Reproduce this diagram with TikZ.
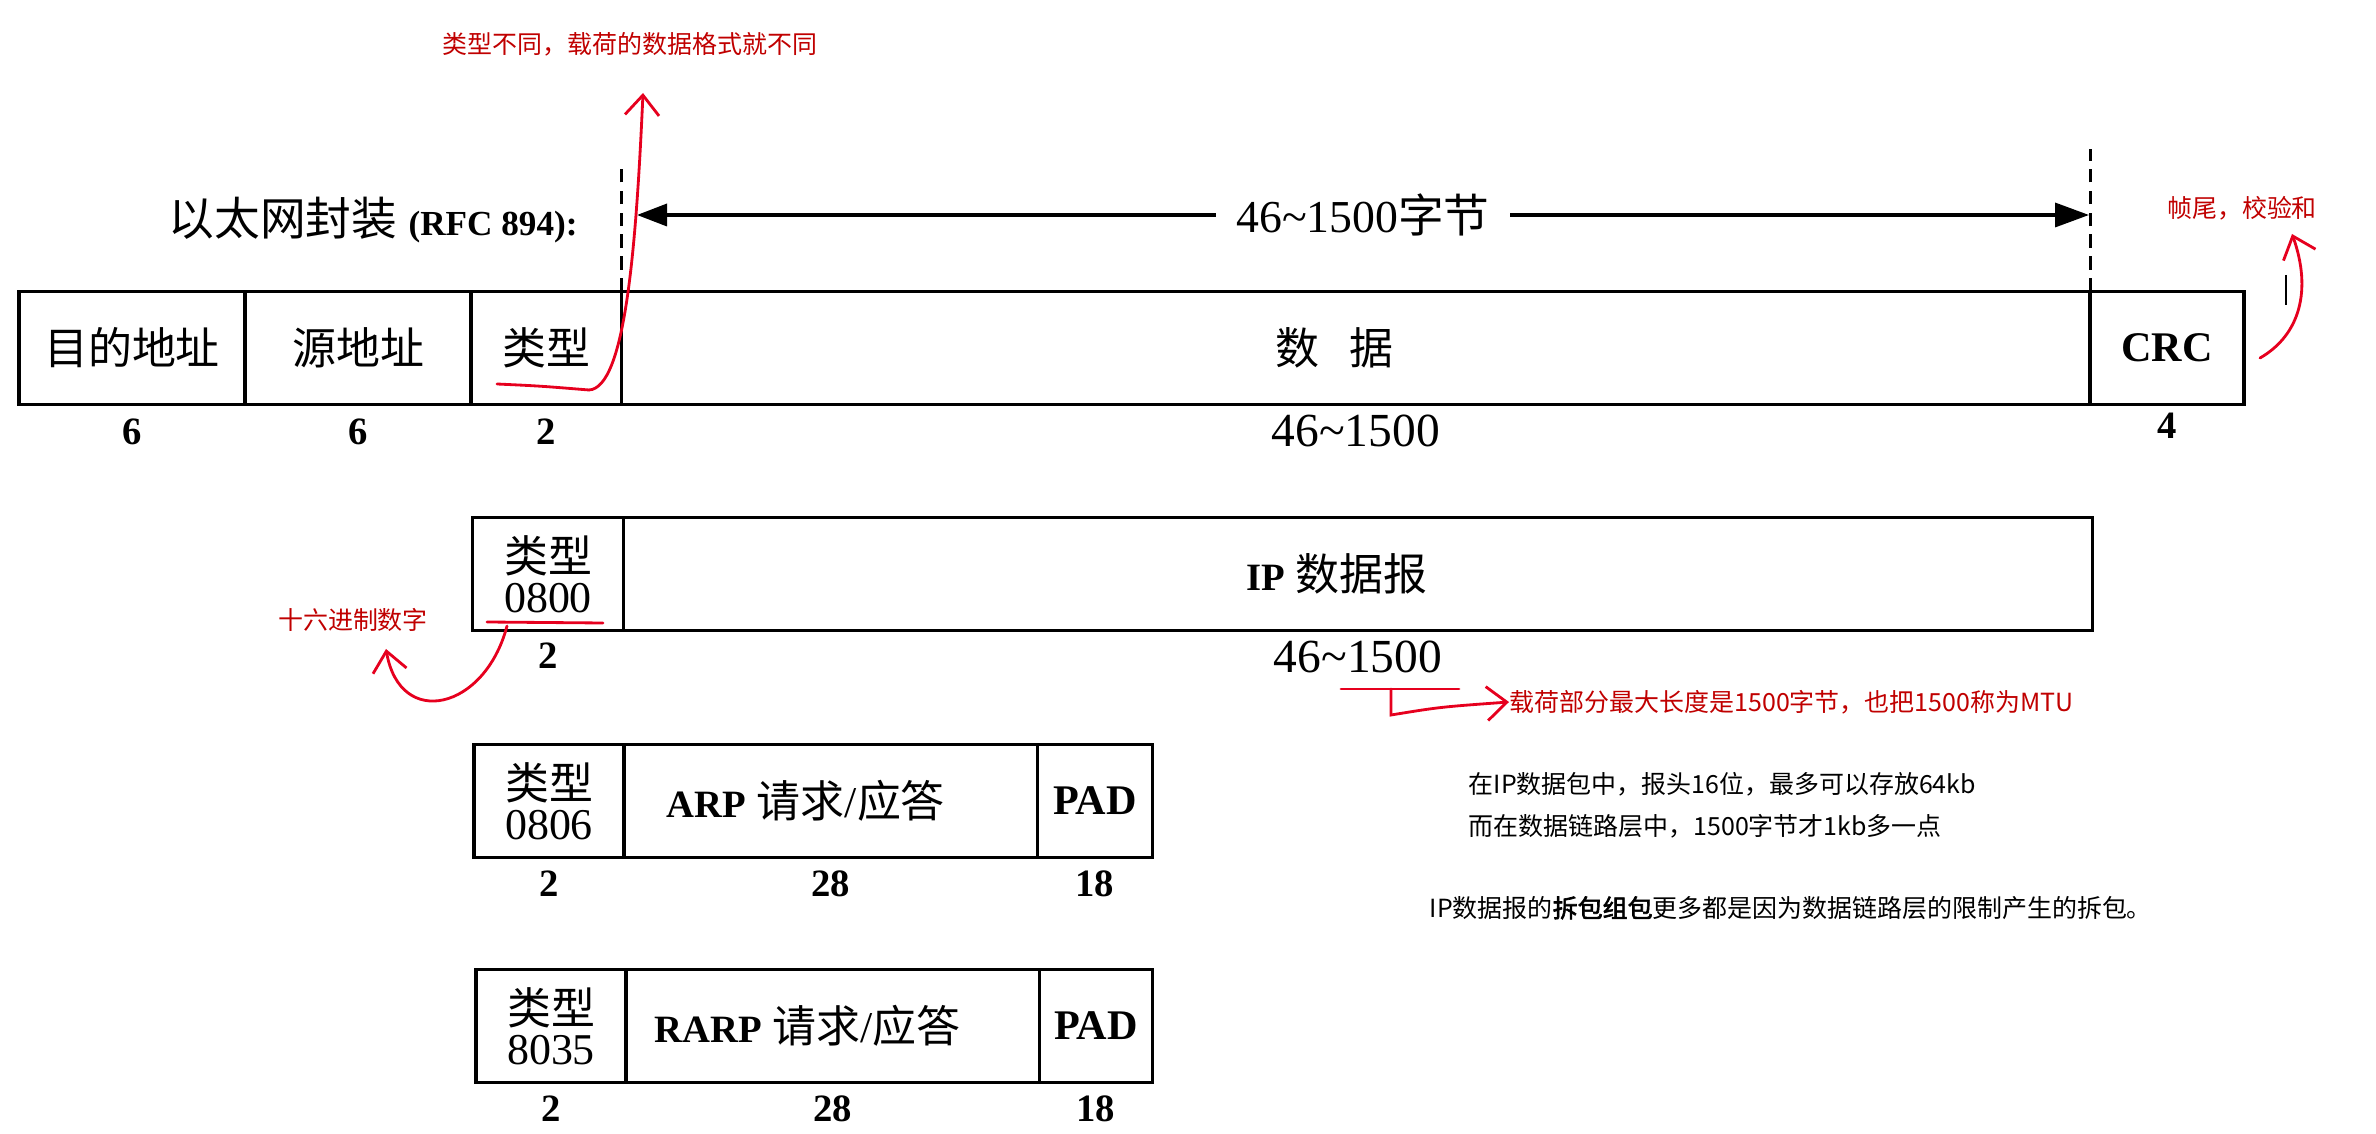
\documentclass[tikz,border=0pt]{standalone}
\usepackage{fontspec}
\setmainfont{Liberation Serif}
\newfontfamily\cjk{Noto Sans CJK SC}
\newfontfamily\cjkbold[FakeBold=2.5]{Noto Sans CJK SC}
\usetikzlibrary{positioning,arrows.meta}

\definecolor{notered}{RGB}{192,0,0}
\definecolor{penred}{RGB}{230,0,30}
\newcommand\zh[1]{{\cjk #1}}
\newcommand\bfsmall[1]{{\bfseries\fontsize{11pt}{11pt}\selectfont #1}}

\tikzset{
  field/.style={draw, line width=1pt, outer sep=0pt, inner sep=0pt,
    minimum height=1.13cm, align=center,
    font=\fontsize{12.5pt}{11.5pt}\selectfont},
  bytes/.style={font=\bfseries\fontsize{11pt}{11pt}\selectfont, inner sep=0pt},
  bytesrange/.style={font=\fontsize{13.5pt}{13.5pt}\selectfont, inner sep=0pt},
  note/.style={text=notered, font=\cjk\fontsize{7.1pt}{8pt}\selectfont, inner sep=0pt},
  remark/.style={font=\cjk\fontsize{7.1pt}{8pt}\selectfont, inner sep=0pt, anchor=west},
  pen/.style={draw=penred, line width=0.8pt, line cap=round},
  penarrow/.style={pen, -{Straight Barb[length=0.2cm, width=0.34cm]}},
  guide/.style={line width=0.9pt, dash pattern=on 3.8pt off 2.4pt},
  spanarrow/.style={line width=1pt,
    {Triangle[length=0.3cm, width=0.22cm]}-{Triangle[length=0.34cm, width=0.24cm]}},
}

\begin{document}
\begin{tikzpicture}[x=0.01cm, y=-0.01cm]
    \useasboundingbox (0,0) rectangle (2376,1134);

    % ethernet frame
    \node[field, minimum width=2.26cm] (dst) at (132,348) {\zh{目的地址}};
    \node[field, minimum width=2.26cm, right=0pt of dst] (src) {\zh{源地址}};
    \node[field, minimum width=1.50cm, right=0pt of src] (typ) {\zh{类型}};
    \node[field, minimum width=14.68cm, right=0pt of typ] (data) {\zh{数\hspace{0.3cm}据}\hspace{0.42cm}};
    \node[field, minimum width=1.54cm, right=0pt of data] (crc) {\bfseries\fontsize{12pt}{12pt}\selectfont CRC};

    \node[bytes, below=0.14cm of dst] (dstlen) {6};
    \node[bytes, below=0.14cm of src] (srclen) {6};
    \node[bytes, below=0.14cm of typ] (typlen) {2};
    \node[bytesrange, below=0.1cm of data] (datalen) {46\textasciitilde1500};
    \node[bytes, below=0.08cm of crc] (crclen) {4};

    \node[anchor=east, font=\fontsize{13pt}{13pt}\selectfont] (eth) at (590,220)
        {\zh{以太网封装} {\bfseries\fontsize{10pt}{10pt}\selectfont (RFC 894):}};
    \draw[guide] (data.north west) -- ++(0,-129);
    \draw[guide] (data.north east) -- ++(0,-142);
    \coordinate (spanl) at (637,215);
    \coordinate (spanr) at (2089,215);
    \draw[spanarrow] (spanl) -- node[bytesrange, fill=white, inner xsep=0.2cm, font=\fontsize{13pt}{13pt}\selectfont]
        (spantext) {46\textasciitilde1500\zh{字节}} (spanr);

    % IP datagram
    \node[field, minimum width=1.51cm] (iptyp) at (548,574) {\zh{类型}\\0800};
    \node[field, minimum width=14.68cm, right=0pt of iptyp] (ipdata) {\bfsmall{IP} \zh{数据报}\hspace{0.42cm}};
    \node[bytes, below=0.12cm of iptyp] (iptyplen) {2};
    \node[bytesrange, below=0.1cm of ipdata] (iplen) {46\textasciitilde1500};

    % ARP
    \node[field, minimum width=1.50cm] (arptyp) at (549,801) {\zh{类型}\\0806};
    \node[field, minimum width=4.13cm, right=0pt of arptyp] (arpdata) {\bfsmall{ARP} \zh{请求}/\zh{应答}\hspace{0.5cm}};
    \node[field, minimum width=1.15cm, right=0pt of arpdata] (arppad) {\bfseries\fontsize{12pt}{12pt}\selectfont PAD};
    \node[bytes, below=0.13cm of arptyp] (arptyplen) {2};
    \node[bytes, below=0.13cm of arpdata] (arplen) {28};
    \node[bytes, below=0.13cm of arppad] (arppadlen) {18};

    % RARP
    \node[field, minimum width=1.50cm] (rarptyp) at (551,1026) {\zh{类型}\\8035};
    \node[field, minimum width=4.13cm, right=0pt of rarptyp] (rarpdata) {\bfsmall{RARP} \zh{请求}/\zh{应答}\hspace{0.5cm}};
    \node[field, minimum width=1.13cm, right=0pt of rarpdata] (rarppad) {\bfseries\fontsize{12pt}{12pt}\selectfont PAD};
    \node[bytes, below=0.13cm of rarptyp] (rarptyplen) {2};
    \node[bytes, below=0.13cm of rarpdata] (rarplen) {28};
    \node[bytes, below=0.13cm of rarppad] (rarppadlen) {18};

    % notes
    \node[note] (typenote) at (630,44) {类型不同，载荷的数据格式就不同};
    \node[note] (crcnote) at (2242,208) {帧尾，校验和};
    \node[note] (hexnote) at (353,620) {十六进制数字};
    \node[note, anchor=west] (mtunote) at (1509,702) {载荷部分最大长度是1500字节，也把1500称为MTU};
    \node[remark] (hdrnote) at (1468,784) {在IP数据包中，报头16位，最多可以存放64kb};
    \node[remark] (linknote) at (1468,826) {而在数据链路层中，1500字节才1kb多一点};
    \node[remark] (fragnote) at (1429,908) {IP数据报的{\cjkbold 拆包组包}更多都是因为数据链路层的限制产生的拆包。};

    % red pen marks
    \coordinate (ula) at (497,384);
    \coordinate (ulb) at (589,390);
    \coordinate (tipa) at (643,93);
    \draw[pen] (ula) .. controls (540,386) .. (ulb);
    \draw[penarrow] (ulb) .. controls (625,388) and (636,250) .. (tipa);

    \coordinate (crcpen) at (2260,358);
    \coordinate (tipb) at (2292,234);
    \draw[penarrow] (crcpen) .. controls (2300,335) and (2312,290) .. (tipb);
    \draw[line width=0.5pt] (2286,275) -- (2286,305);

    \coordinate (ulc) at (487,622);
    \coordinate (uld) at (603,623);
    \coordinate (tipc) at (386,649);
    \draw[pen] (ulc) -- (uld);
    \draw[penarrow] (ulc) ++(20,4) .. controls (485,710) and (400,730) .. (tipc);

    \coordinate (ule) at (1341,689);
    \coordinate (ulf) at (1459,689);
    \coordinate (mtupen) at (1391,689);
    \draw[pen] (ule) -- (ulf);
    \draw[penarrow] (mtupen) -- ++(0,26) .. controls (1440,707) .. (mtunote.west);

\end{tikzpicture}
\end{document}
